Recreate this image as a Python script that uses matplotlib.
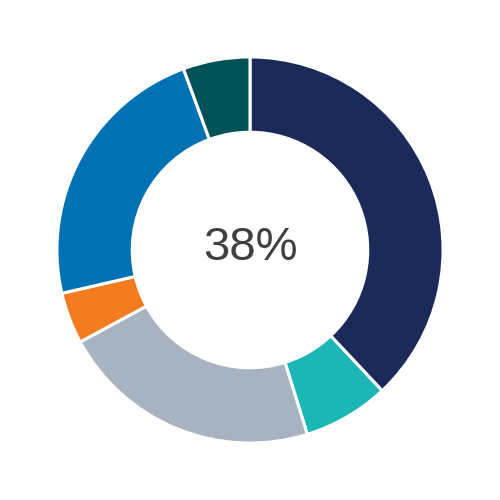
import matplotlib
matplotlib.use("Agg")
import matplotlib.pyplot as plt

labels = ["A", "B", "C", "D", "E", "F"]
values = [38, 7.2, 21.9, 4.3, 23.0, 5.6]
colors = ["#1c2a5a", "#1bb6b5", "#a8b3c2", "#f47c20", "#0072b4", "#005257"]
center_text = "38%"

fig = plt.figure(figsize=(5, 5), dpi=100)
ax = fig.add_axes([0, 0, 1, 1])
ax.pie(values, colors=colors, startangle=90, counterclock=False, radius=1,
       wedgeprops=dict(width=0.39, edgecolor="white", linewidth=2.2))
ax.text(0, 0.01, center_text, ha="center", va="center", fontsize=34,
        color="#404040", family=["Liberation Sans", "DejaVu Sans"])
lim = 1.295
ax.set_xlim(-lim, lim)
ax.set_ylim(-lim, lim)
ax.set_aspect("equal")
ax.axis("off")
fig.savefig("out.png", dpi=100, facecolor="white")
